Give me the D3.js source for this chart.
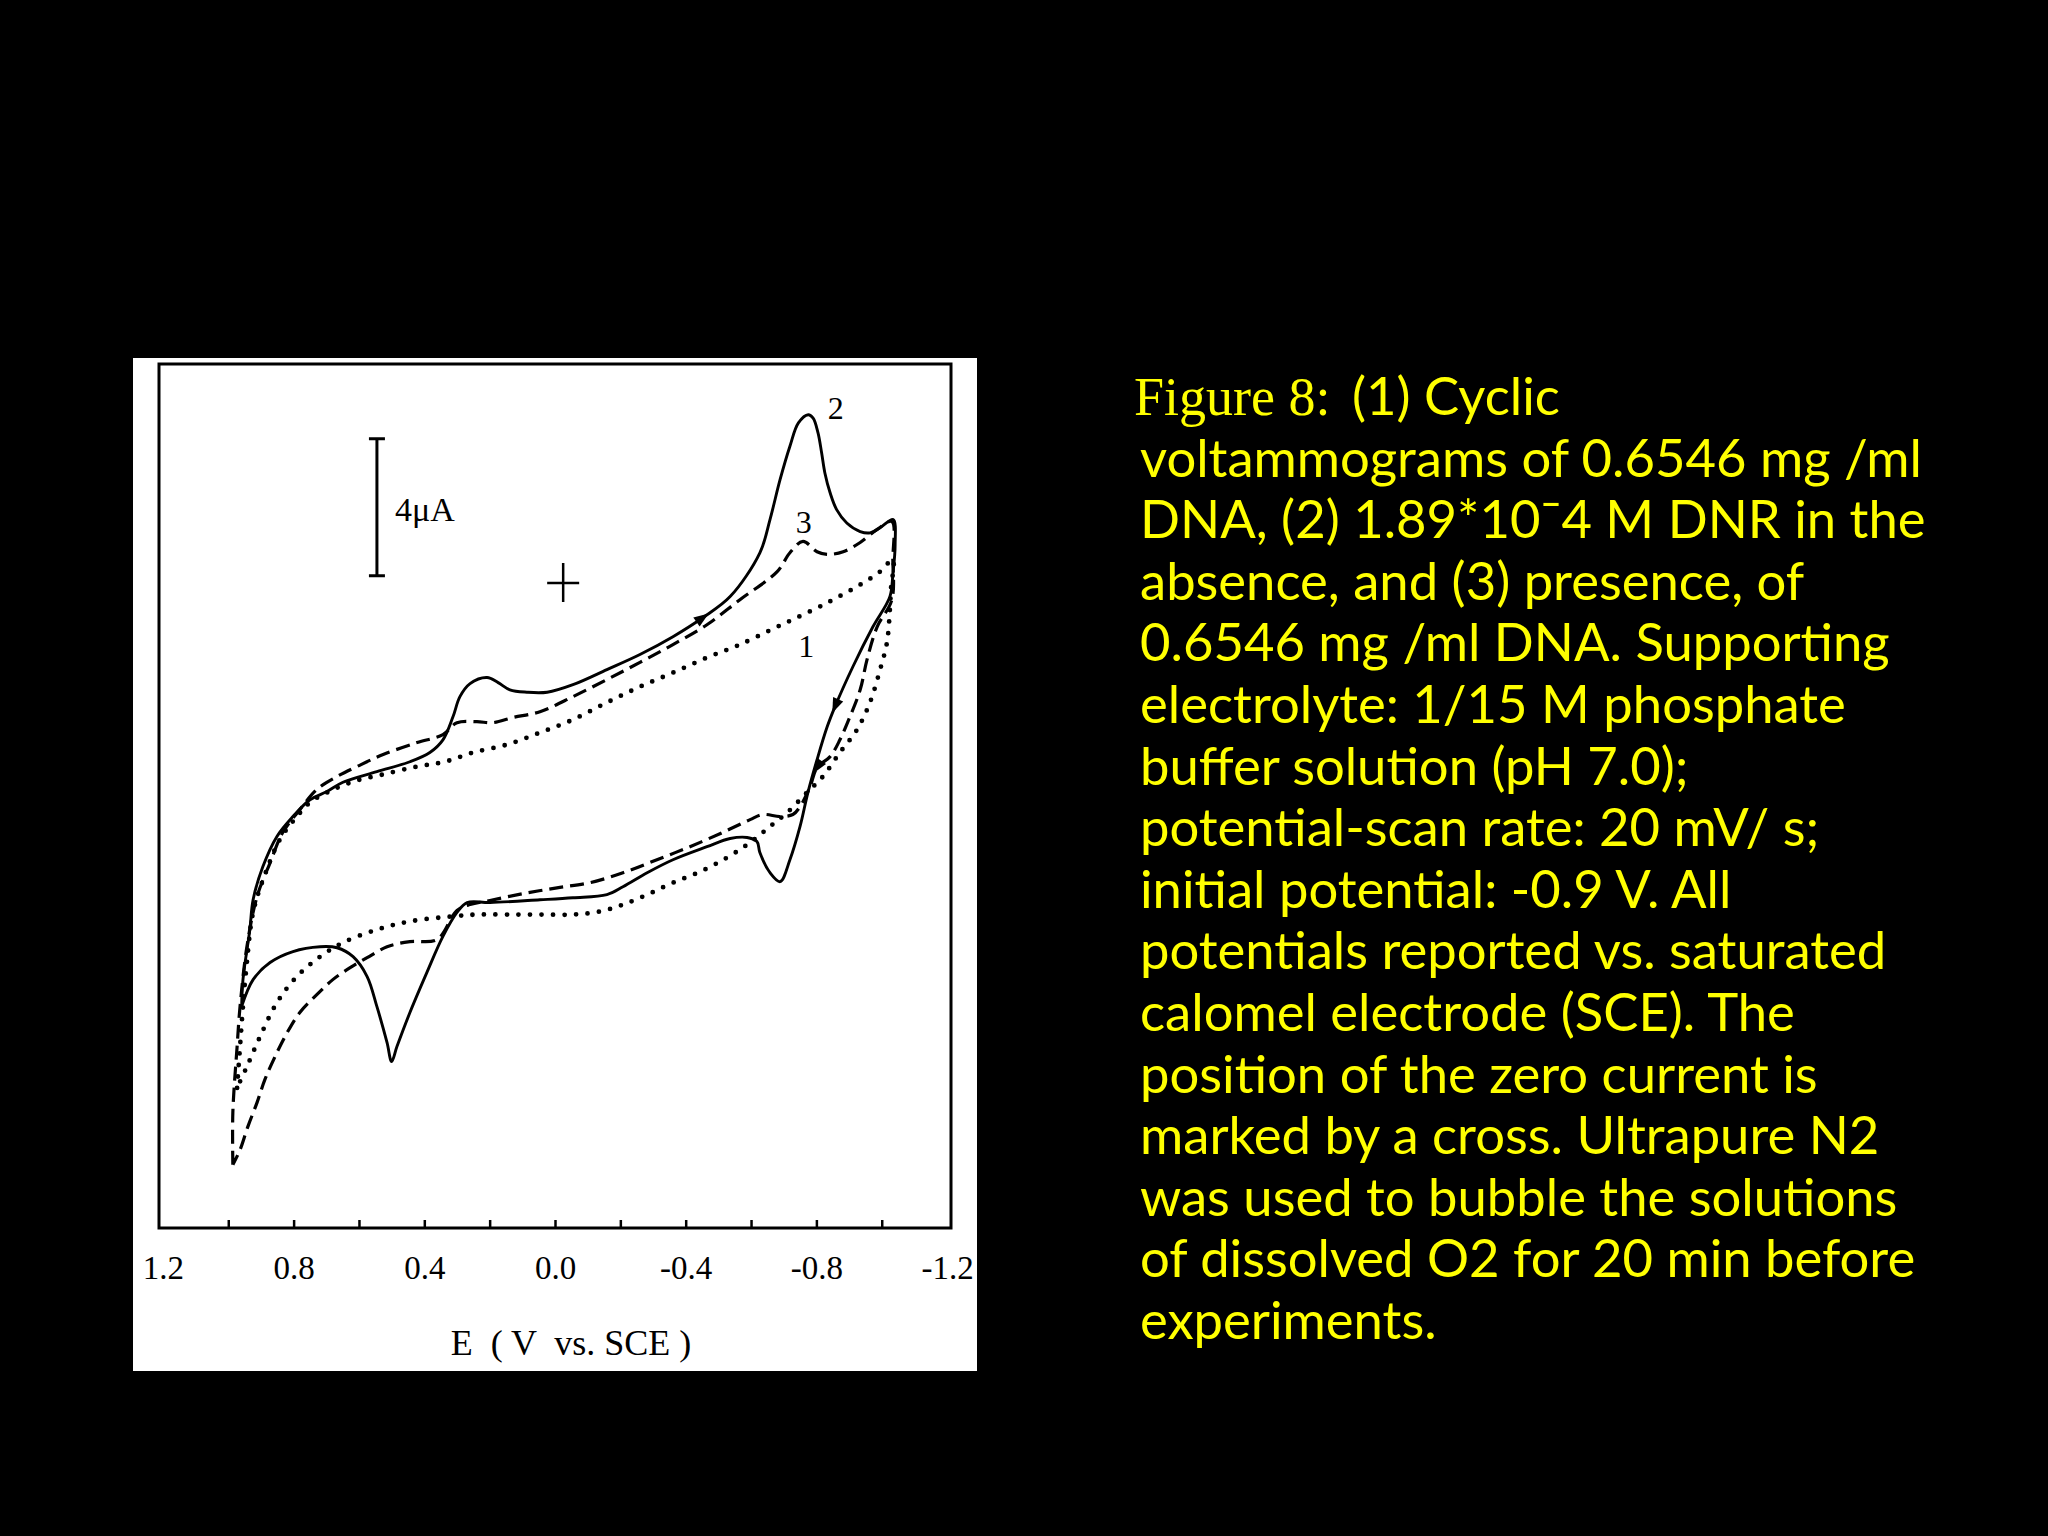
<!DOCTYPE html>
<html>
<head>
<meta charset="utf-8">
<script src="https://cdn.jsdelivr.net/npm/d3@7"></script>
<style>
  html, body { margin: 0; padding: 0; background: #000; }
  svg { display: block; }
</style>
</head>
<body>
<script>
// data: [E (V vs SCE), I (uA)], zero current at the cross
// curve 1: DNA alone (dotted)
var curve1 = [[0.973,-14.74],[0.964,-13.54],[0.955,-12.37],[0.943,-11.08],[0.924,-9.62],[0.888,-8.52],[0.842,-7.49],[0.790,-6.82],[0.750,-6.41],[0.698,-6.12],[0.618,-5.80],[0.526,-5.59],[0.422,-5.36],[0.337,-5.22],[0.251,-4.95],[0.147,-4.72],[0.046,-4.37],[-0.055,-3.99],[-0.159,-3.49],[-0.260,-3.03],[-0.361,-2.62],[-0.465,-2.18],[-0.566,-1.80],[-0.680,-1.28],[-0.728,-1.07],[-0.833,-0.58],[-0.934,-0.05],[-0.995,0.33],[-1.034,0.68],
  [-1.028,-0.20],[-1.025,-0.78],[-1.016,-1.74],[-0.995,-2.53],[-0.964,-3.49],[-0.924,-4.29],[-0.872,-4.95],[-0.820,-5.65],[-0.771,-6.12],[-0.710,-6.71],[-0.658,-7.11],[-0.597,-7.58],[-0.526,-8.02],[-0.444,-8.43],[-0.361,-8.75],[-0.282,-9.10],[-0.208,-9.39],[-0.138,-9.59],[-0.055,-9.68],[0.046,-9.68],[0.147,-9.68],[0.239,-9.68],[0.321,-9.74],[0.444,-9.88],[0.545,-10.12],[0.649,-10.50],[0.719,-10.91],[0.790,-11.49],[0.851,-12.25],[0.903,-13.25],[0.943,-14.12],[0.973,-14.74]];

// curve 2: DNR without DNA (solid)
var curve2 = [[0.959,-12.36],[0.955,-11.58],[0.934,-10.12],[0.924,-9.25],[0.894,-8.28],[0.851,-7.40],[0.802,-6.82],[0.750,-6.33],[0.698,-6.09],[0.649,-5.82],[0.545,-5.51],[0.444,-5.22],[0.383,-4.95],[0.343,-4.58],[0.312,-3.90],[0.291,-3.32],[0.260,-2.94],[0.208,-2.76],[0.174,-2.91],[0.138,-3.12],[0.086,-3.19],[0.024,-3.19],[-0.055,-2.97],[-0.159,-2.53],[-0.260,-2.09],[-0.361,-1.57],[-0.453,-1.01],[-0.536,-0.40],[-0.627,0.88],[-0.658,1.85],[-0.689,3.02],[-0.719,3.99],[-0.745,4.67],[-0.775,4.91],[-0.790,4.81],[-0.805,4.38],[-0.816,3.80],[-0.826,3.21],[-0.842,2.63],[-0.862,2.14],[-0.893,1.75],[-0.934,1.50],[-0.964,1.46],[-0.995,1.61],[-1.035,1.85],
  [-1.041,1.12],[-1.034,0.24],[-1.025,-0.40],[-0.973,-1.28],[-0.912,-2.44],[-0.857,-3.61],[-0.833,-4.20],[-0.802,-5.16],[-0.774,-6.12],[-0.750,-7.11],[-0.719,-8.08],[-0.689,-8.72],[-0.658,-8.46],[-0.627,-7.87],[-0.618,-7.55],[-0.588,-7.43],[-0.536,-7.46],[-0.465,-7.70],[-0.361,-8.08],[-0.282,-8.46],[-0.208,-8.87],[-0.159,-9.10],[-0.055,-9.19],[0.046,-9.25],[0.199,-9.33],[0.269,-9.33],[0.300,-9.62],[0.343,-10.32],[0.392,-11.37],[0.444,-12.54],[0.484,-13.54],[0.500,-13.97],[0.514,-13.42],[0.545,-12.37],[0.575,-11.49],[0.618,-10.91],[0.667,-10.65],[0.719,-10.62],[0.802,-10.76],[0.872,-11.08],[0.924,-11.58],[0.959,-12.36]];

// curve 3: DNR with DNA (dashed)
var curve3 = [[0.986,-16.98],[0.986,-15.46],[0.973,-13.54],[0.964,-12.37],[0.943,-10.62],[0.912,-9.16],[0.872,-8.17],[0.833,-7.28],[0.781,-6.62],[0.729,-6.03],[0.667,-5.65],[0.606,-5.36],[0.526,-5.01],[0.422,-4.66],[0.343,-4.43],[0.300,-4.08],[0.239,-4.05],[0.190,-4.08],[0.129,-3.93],[0.046,-3.76],[-0.055,-3.32],[-0.159,-2.82],[-0.260,-2.32],[-0.361,-1.80],[-0.465,-1.22],[-0.566,-0.49],[-0.680,0.33],[-0.719,0.88],[-0.759,1.21],[-0.802,0.91],[-0.833,0.83],[-0.882,0.91],[-0.934,1.18],[-0.986,1.56],[-1.031,1.79],
  [-1.034,0.68],[-1.031,-0.49],[-0.986,-1.28],[-0.955,-2.24],[-0.934,-3.12],[-0.903,-3.90],[-0.872,-4.58],[-0.842,-5.07],[-0.802,-5.39],[-0.781,-5.94],[-0.750,-6.53],[-0.728,-6.76],[-0.689,-6.82],[-0.637,-6.76],[-0.597,-6.91],[-0.514,-7.28],[-0.413,-7.70],[-0.312,-8.08],[-0.208,-8.46],[-0.107,-8.75],[-0.006,-8.90],[0.098,-9.07],[0.199,-9.27],[0.260,-9.39],[0.300,-9.56],[0.361,-10.41],[0.444,-10.47],[0.514,-10.62],[0.575,-10.94],[0.627,-11.23],[0.680,-11.58],[0.729,-12.02],[0.781,-12.54],[0.820,-13.13],[0.857,-13.83],[0.888,-14.50],[0.912,-15.17],[0.940,-15.87],[0.964,-16.55],[0.986,-16.98]];

var minorTicks = [1.0, 0.8, 0.6, 0.4, 0.2, 0.0, -0.2, -0.4, -0.6, -0.8, -1.0];
var tickValues = [1.2, 0.8, 0.4, 0.0, -0.4, -0.8, -1.2];
var tickLabels = ["1.2", "0.8", "0.4", "0.0", "-0.4", "-0.8", "-1.2"];
var axisTitle = "E  ( V  vs. SCE )";

var curveLabels = [
  { text: "2", E: -0.859, I: 5.09 },
  { text: "3", E: -0.761, I: 1.76 },
  { text: "1", E: -0.769, I: -1.84 }
];
// scan direction arrows, placed at the nearest point of a curve
var arrows = [
  { curve: 2, at: [-0.453, -1.01] },
  { curve: 2, at: [-0.857, -3.61] },
  { curve: 3, at: [-0.802, -5.39] }
];
var zeroCross = [-0.025, 0];
var scaleBar = { E: 0.545, from: 0.21, size: 4, label: "4\u03bcA" };

var captionHead = "Figure 8:";
var captionLines = [
  "(1) Cyclic",
  "voltammograms of 0.6546 mg /ml",
  "DNA, (2) 1.89*10\u00af4 M DNR in the",
  "absence, and (3) presence, of",
  "0.6546 mg /ml DNA. Supporting",
  "electrolyte: 1/15 M phosphate",
  "buffer solution (pH 7.0);",
  "potential-scan rate: 20 mV/ s;",
  "initial potential: -0.9 V. All",
  "potentials reported vs. saturated",
  "calomel electrode (SCE). The",
  "position of the zero current is",
  "marked by a cross. Ultrapure N2",
  "was used to bubble the solutions",
  "of dissolved O2 for 20 min before",
  "experiments."
];

var W = 2048, H = 1536;
var serif = "'Liberation Serif', 'Times New Roman', serif";
var sans = "Lato, 'Open Sans', sans-serif";

var svg = d3.select("body").append("svg")
    .attr("width", W)
    .attr("height", H);

svg.append("rect")
    .attr("width", W).attr("height", H)
    .attr("fill", "#000");

// white figure panel
svg.append("rect")
    .attr("x", 133).attr("y", 358)
    .attr("width", 844).attr("height", 1013)
    .attr("fill", "#fff");

var x = d3.scaleLinear().domain([1.212, -1.212]).range([159, 951]);
var y = d3.scaleLinear().domain([-18.83, 6.39]).range([1228, 364]);

var xr = x.range(), yr = y.range();
svg.append("rect")
    .attr("x", xr[0]).attr("y", yr[1])
    .attr("width", xr[1] - xr[0]).attr("height", yr[0] - yr[1])
    .attr("fill", "none")
    .attr("stroke", "#000")
    .attr("stroke-width", 3);

// inward tick marks
var gTicks = svg.append("g")
    .attr("transform", "translate(0," + yr[0] + ")")
    .call(d3.axisBottom(x).tickValues(minorTicks).tickSize(-8).tickFormat(""));
gTicks.select(".domain").remove();
gTicks.selectAll("line").attr("stroke", "#000").attr("stroke-width", 2.5);

// tick labels
var gLabels = svg.append("g")
    .attr("transform", "translate(0," + yr[0] + ")")
    .call(d3.axisBottom(x).tickValues(tickValues).tickSize(0)
        .tickFormat(function (d, i) { return tickLabels[i]; }));
gLabels.select(".domain").remove();
gLabels.attr("font-family", serif).attr("font-size", 33);
gLabels.selectAll("text")
    .attr("y", 51)
    .attr("dy", null)
    .attr("fill", "#000");

svg.append("text")
    .attr("x", 571).attr("y", 1355)
    .attr("text-anchor", "middle")
    .attr("font-family", serif)
    .attr("font-size", 36)
    .attr("fill", "#000")
    .style("white-space", "pre")
    .text(axisTitle);

// curves
var line = d3.line()
    .x(function (d) { return x(d[0]); })
    .y(function (d) { return y(d[1]); })
    .curve(d3.curveCatmullRom.alpha(0.5));

var curves = {
  1: { data: curve1, width: 4.8, dash: "0,11.5", cap: "round" },
  2: { data: curve2, width: 2.9, dash: null, cap: "butt" },
  3: { data: curve3, width: 3.2, dash: "14,7", cap: "butt" }
};

[1, 3, 2].forEach(function (k) {
  var c = curves[k];
  svg.append("path")
      .datum(c.data)
      .attr("d", line)
      .attr("fill", "none")
      .attr("stroke", "#000")
      .attr("stroke-width", c.width)
      .attr("stroke-dasharray", c.dash)
      .attr("stroke-linecap", c.cap)
      .attr("stroke-linejoin", "round");
});

// arrows
arrows.forEach(function (a) {
  var pts = curves[a.curve].data;
  var best = 1, bestD = Infinity;
  for (var i = 1; i < pts.length - 1; i++) {
    var d = Math.pow(pts[i][0] - a.at[0], 2) + Math.pow(pts[i][1] - a.at[1], 2);
    if (d < bestD) { bestD = d; best = i; }
  }
  var p0 = pts[best - 1], p1 = pts[best + 1];
  var ang = Math.atan2(y(p1[1]) - y(p0[1]), x(p1[0]) - x(p0[0])) * 180 / Math.PI;
  svg.append("path")
      .attr("d", "M7,0 L-8,-5.5 L-8,5.5 Z")
      .attr("fill", "#000")
      .attr("transform", "translate(" + x(pts[best][0]) + "," + y(pts[best][1]) + ") rotate(" + ang + ")");
});

// curve numbers
svg.selectAll(".clabel")
    .data(curveLabels)
    .enter().append("text")
    .attr("class", "clabel")
    .attr("x", function (d) { return x(d.E); })
    .attr("y", function (d) { return y(d.I); })
    .attr("dy", "0.34em")
    .attr("text-anchor", "middle")
    .attr("font-family", serif)
    .attr("font-size", 32)
    .attr("fill", "#000")
    .text(function (d) { return d.text; });

// zero current cross
var cx = x(zeroCross[0]), cy = y(zeroCross[1]);
svg.append("path")
    .attr("d", "M" + (cx - 16) + "," + cy + "H" + (cx + 16) + "M" + cx + "," + (cy - 20) + "V" + (cy + 19))
    .attr("stroke", "#000")
    .attr("stroke-width", 2.5)
    .attr("fill", "none");

// 4 uA scale bar
var bx = x(scaleBar.E), by0 = y(scaleBar.from), by1 = y(scaleBar.from + scaleBar.size);
svg.append("path")
    .attr("d", "M" + bx + "," + by0 + "V" + by1 +
        "M" + (bx - 8) + "," + by0 + "H" + (bx + 8) +
        "M" + (bx - 8) + "," + by1 + "H" + (bx + 8))
    .attr("stroke", "#000")
    .attr("stroke-width", 3)
    .attr("fill", "none");
svg.append("text")
    .attr("x", bx + 18)
    .attr("y", (by0 + by1) / 2 + 14)
    .attr("font-family", serif)
    .attr("font-size", 34)
    .attr("fill", "#000")
    .text(scaleBar.label);

// caption on the right
var yellow = "#ffff00";
var probe = svg.append("text")
    .attr("font-family", sans)
    .attr("font-size", 100)
    .text(captionLines[1]);
var capSize = 100 * 782 / probe.node().getComputedTextLength();
probe.remove();

var lineStep = 61.6, firstBase = 415;

svg.append("text")
    .attr("x", 1134).attr("y", firstBase)
    .attr("font-family", serif)
    .attr("font-size", 54)
    .attr("fill", yellow)
    .text(captionHead);

svg.selectAll(".cap")
    .data(captionLines)
    .enter().append("text")
    .attr("class", "cap")
    .attr("x", function (d, i) { return i === 0 ? 1352 : 1140; })
    .attr("y", function (d, i) { return firstBase + i * lineStep; })
    .attr("font-family", sans)
    .attr("font-size", capSize)
    .attr("fill", yellow)
    .text(function (d) { return d; });
</script>
</body>
</html>
